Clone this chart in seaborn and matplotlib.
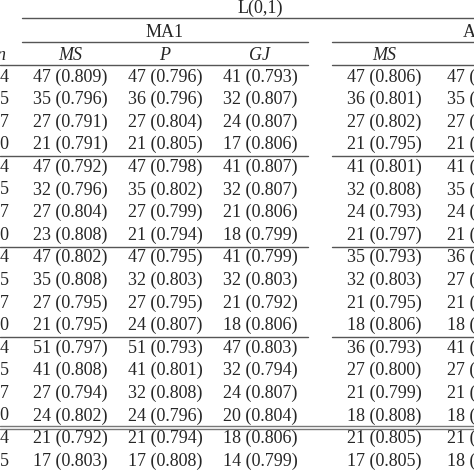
import matplotlib
matplotlib.use("Agg")
import matplotlib.pyplot as plt
import seaborn as sns

# Table data (cropped view of a larger table)
n_values = ["4", "5", "7", "10"] * 4 + ["4", "5"]
ms_ma1 = ["47 (0.809)", "35 (0.796)", "27 (0.791)", "21 (0.791)",
          "47 (0.792)", "32 (0.796)", "27 (0.804)", "23 (0.808)",
          "47 (0.802)", "35 (0.808)", "27 (0.795)", "21 (0.795)",
          "51 (0.797)", "41 (0.808)", "27 (0.794)", "24 (0.802)",
          "21 (0.792)", "17 (0.803)"]
p_ma1 = ["47 (0.796)", "36 (0.796)", "27 (0.804)", "21 (0.805)",
         "47 (0.798)", "35 (0.802)", "27 (0.799)", "21 (0.794)",
         "47 (0.795)", "32 (0.803)", "27 (0.795)", "24 (0.807)",
         "51 (0.793)", "41 (0.801)", "32 (0.808)", "24 (0.796)",
         "21 (0.794)", "17 (0.808)"]
gj_ma1 = ["41 (0.793)", "32 (0.807)", "24 (0.807)", "17 (0.806)",
          "41 (0.807)", "32 (0.807)", "21 (0.806)", "18 (0.799)",
          "41 (0.799)", "32 (0.803)", "21 (0.792)", "18 (0.806)",
          "47 (0.803)", "32 (0.794)", "24 (0.807)", "20 (0.804)",
          "18 (0.806)", "14 (0.799)"]
ms_a = ["47 (0.806)", "36 (0.801)", "27 (0.802)", "21 (0.795)",
        "41 (0.801)", "32 (0.808)", "24 (0.793)", "21 (0.797)",
        "35 (0.793)", "32 (0.803)", "21 (0.795)", "18 (0.806)",
        "36 (0.793)", "27 (0.800)", "21 (0.799)", "18 (0.808)",
        "21 (0.805)", "17 (0.805)"]
p_a = ["47 (0.800)", "35 (0.800)", "27 (0.800)", "21 (0.800)",
       "41 (0.800)", "35 (0.800)", "24 (0.800)", "21 (0.800)",
       "36 (0.800)", "27 (0.800)", "21 (0.800)", "18 (0.800)",
       "41 (0.800)", "27 (0.800)", "21 (0.800)", "18 (0.800)",
       "21 (0.800)", "18 (0.800)"]
col_headers = ["MS", "P", "GJ", "MS", "P"]

sns.set_theme(style="white")
plt.rcParams['font.family'] = ['Liberation Serif', 'DejaVu Serif']

fig = plt.figure(figsize=(4.74, 4.74), dpi=100)
ax = fig.add_axes([0, 0, 1, 1])
ax.set_xlim(0, 474)
ax.set_ylim(474, 0)
ax.axis("off")

fs = 13
col_x = [70, 165, 260, 384, 484]
row_y0, row_dy = 77, 22.6

ax.text(260, 8, "L(0,1)", ha="center", va="center", fontsize=fs)
ax.plot([22, 474], [18, 18], color="#555555", lw=1)
ax.text(165, 32, "MA1", ha="center", va="center", fontsize=fs)
ax.text(480, 32, "AR1", ha="center", va="center", fontsize=fs)
ax.plot([22, 308], [42, 42], color="#555555", lw=1)
ax.plot([332, 474], [42, 42], color="#555555", lw=1)

ax.text(5, 55, "n", ha="right", va="center", fontsize=fs, style="italic")
for x, h in zip(col_x, col_headers):
    ax.text(x, 55, h, ha="center", va="center", fontsize=fs, style="italic")
ax.plot([0, 308], [65, 65], color="#555555", lw=1)
ax.plot([332, 474], [65, 65], color="#555555", lw=1)

cols = [ms_ma1, p_ma1, gj_ma1, ms_a, p_a]
for i, n in enumerate(n_values):
    y = row_y0 + row_dy * i
    ax.text(9, y, n, ha="right", va="center", fontsize=fs)
    for x, col in zip(col_x, cols):
        ax.text(x, y, col[i], ha="center", va="center", fontsize=fs)

for k in [4, 8, 12]:
    y = row_y0 + row_dy * (k - 0.5)
    ax.plot([0, 308], [y, y], color="#555555", lw=1)
    ax.plot([332, 474], [y, y], color="#555555", lw=1)
y = row_y0 + row_dy * 15.5
ax.plot([0, 474], [y - 1.3, y - 1.3], color="#777777", lw=1)
ax.plot([0, 474], [y + 1.3, y + 1.3], color="#777777", lw=1)

fig.savefig("out.png", dpi=100, facecolor="white")
